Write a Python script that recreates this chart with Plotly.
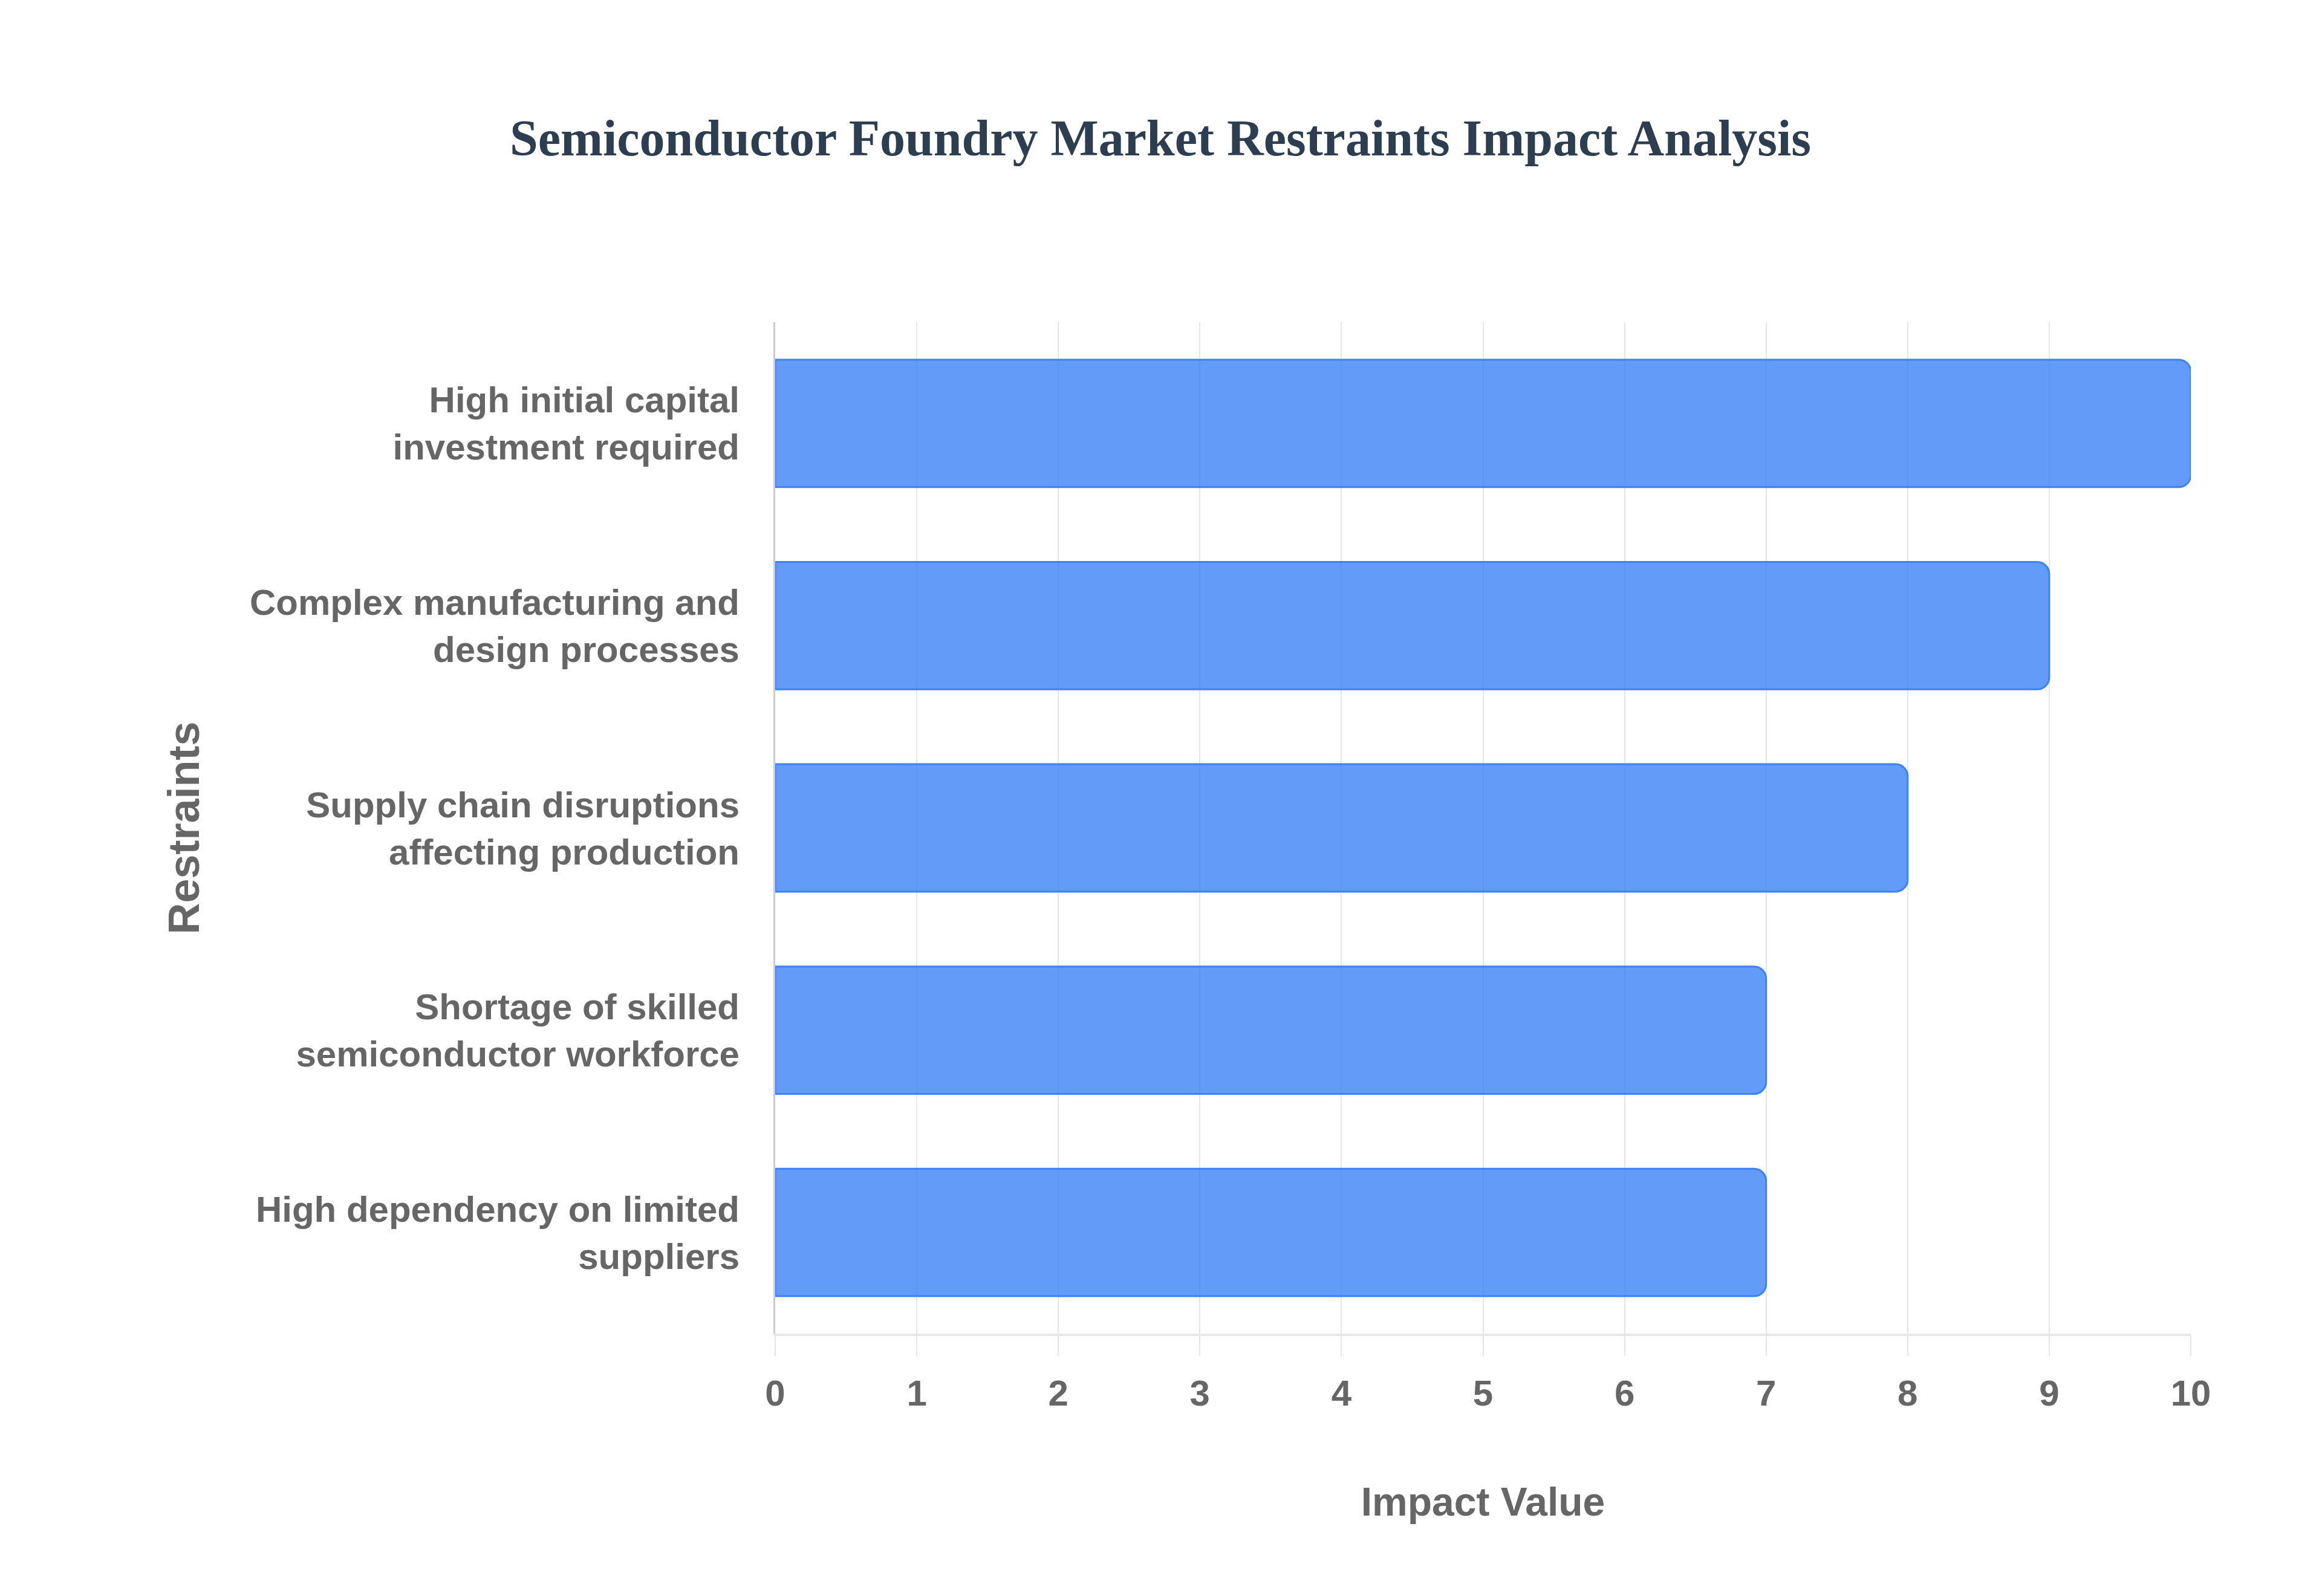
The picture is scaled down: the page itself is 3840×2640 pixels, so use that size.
import plotly.graph_objects as go

# restraints, listed top to bottom as in the chart
restraints = [
    "High initial capital<br>investment required",
    "Complex manufacturing and<br>design processes",
    "Supply chain disruptions<br>affecting production",
    "Shortage of skilled<br>semiconductor workforce",
    "High dependency on limited<br>suppliers",
]
impact_values = [10, 9, 8, 7, 7]
x_ticks = list(range(0, 11))

GREY = "#666666"

fig = go.Figure()

fig.add_trace(go.Bar(
    x=impact_values,
    y=restraints,
    orientation="h",
    marker=dict(
        color="rgba(59, 130, 246, 0.8)",
        line=dict(color="rgb(59, 130, 246)", width=3),
        cornerradius=20,
    ),
    hoverinfo="x+y",
))

fig.update_layout(
    width=3840,
    height=2640,
    margin=dict(l=1274, r=225, t=525, b=442),
    paper_bgcolor="white",
    plot_bgcolor="white",
    bargap=0.37,
    showlegend=False,
    title=dict(
        text="<b>Semiconductor Foundry Market Restraints Impact Analysis</b>",
        x=(1920 - 9) / 3840,
        xanchor="center",
        y=1 - 220 / 2640,
        yanchor="middle",
        font=dict(family="Liberation Serif, Times New Roman, serif", size=84, color="#2c3e50"),
    ),
    font=dict(family="Liberation Sans, Arial, sans-serif", color=GREY),
)

fig.update_xaxes(
    range=[0, 10],
    tickvals=x_ticks,
    showgrid=True,
    gridcolor="#e6e6e6",
    gridwidth=2,
    ticks="outside",
    ticklen=33,
    tickwidth=2,
    tickcolor="#e6e6e6",
    ticklabelstandoff=10,
    showline=True,
    linecolor="#e8e8e8",
    linewidth=4,
    zeroline=False,
    tickfont=dict(size=60, color=GREY, weight="bold"),
    title=dict(text="<b>Impact Value</b>", font=dict(size=66, color=GREY), standoff=125),
)

fig.update_yaxes(
    autorange="reversed",
    showgrid=False,
    showline=True,
    linecolor="#cccccc",
    linewidth=3,
    ticks="",
    ticklabelstandoff=44,
    tickfont=dict(size=60, color=GREY, weight="bold"),
    title=dict(text="<b>Restraints</b>", font=dict(size=72, color=GREY), standoff=60),
)

fig.write_html("out.html")
